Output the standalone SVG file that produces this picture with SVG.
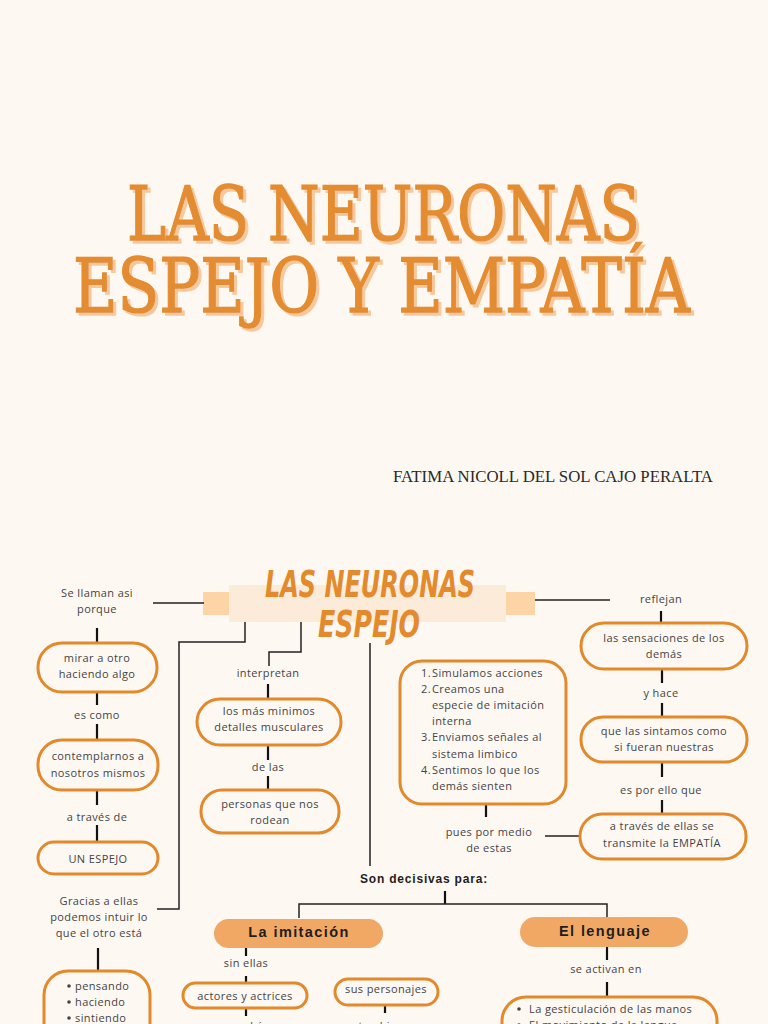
<svg xmlns="http://www.w3.org/2000/svg" width="768" height="1024" viewBox="0 0 768 1024">
<defs>
<filter id="shadow" x="-5%" y="-20%" width="110%" height="140%">
  <feOffset in="SourceAlpha" dx="3" dy="3" result="off"/>
  <feFlood flood-color="#f7c89c"/>
  <feComposite in2="off" operator="in" result="sh"/>
  <feMerge><feMergeNode in="sh"/><feMergeNode in="SourceGraphic"/></feMerge>
</filter>
</defs>
<style>
.bg{fill:#fef8f3}
.t{font-family:"Open Sans","Liberation Sans",sans-serif;font-size:11px;letter-spacing:0.4px;fill:#444;text-anchor:middle}
.tl{font-family:"Open Sans","Liberation Sans",sans-serif;font-size:11px;letter-spacing:0.4px;fill:#444}
.node{fill:none;stroke:#e2892c;stroke-width:3}
.pill{fill:#f2a865;stroke:none}
.pt{font-family:"Liberation Sans","Open Sans",sans-serif;font-size:14.5px;font-weight:bold;letter-spacing:1.4px;fill:#1e1e1e;text-anchor:middle}
.ln{fill:none;stroke:#222;stroke-width:1.5}
.tk{fill:none;stroke:#111;stroke-width:2.2}
.ttl{font-family:"DejaVu Serif","Liberation Serif",serif;font-size:75px;fill:#e48c30;stroke:#e48c30;stroke-width:1.3px}
.bt{font-family:"DejaVu Sans Condensed","DejaVu Sans","Liberation Sans",sans-serif;font-weight:bold;font-style:italic;font-size:38px;fill:#e38a2c}
</style>
<rect class="bg" x="0" y="0" width="768" height="1024"/>

<g id="title" filter="url(#shadow)">
  <text class="ttl" x="127" y="240" textLength="513" lengthAdjust="spacingAndGlyphs">LAS NEURONAS</text>
  <text class="ttl" x="73" y="312" textLength="617" lengthAdjust="spacingAndGlyphs">ESPEJO Y EMPATÍA</text>
</g>
<text id="author" x="393" y="482" font-family="Liberation Serif, serif" font-size="16.5" fill="#2a2a2a" textLength="320" lengthAdjust="spacingAndGlyphs">FATIMA NICOLL DEL SOL CAJO PERALTA</text>

<g id="banner">
  <rect x="203" y="592" width="27" height="23" fill="#fdd4a6"/>
  <rect x="506" y="592" width="29" height="23" fill="#fdd4a6"/>
  <rect x="229" y="585" width="277" height="37" fill="#fcebd8"/>
  <text class="bt" x="265" y="597" textLength="210" lengthAdjust="spacingAndGlyphs">LAS NEURONAS</text>
  <text class="bt" x="318" y="637" textLength="102" lengthAdjust="spacingAndGlyphs">ESPEJO</text>
</g>

<g id="connectors">
  <line class="ln" x1="153" y1="603" x2="204" y2="603"/>
  <line class="tk" x1="97" y1="628" x2="97" y2="642"/>
  <line class="tk" x1="97" y1="692" x2="97" y2="705"/>
  <line class="tk" x1="97" y1="724" x2="97" y2="739"/>
  <line class="tk" x1="97" y1="791" x2="97" y2="805"/>
  <line class="tk" x1="97" y1="825" x2="97" y2="841"/>
  <polyline class="ln" points="157,909 179,909 179,642 245,642 245,622"/>
  <line class="tk" x1="98" y1="948" x2="98" y2="970"/>
  <polyline class="ln" points="301,622 301,652 269,652 269,666"/>
  <line class="tk" x1="268" y1="684" x2="268" y2="698"/>
  <line class="tk" x1="268" y1="746" x2="268" y2="760"/>
  <line class="tk" x1="268" y1="776" x2="268" y2="790"/>
  <line class="ln" x1="370" y1="643" x2="370" y2="866"/>
  <line class="tk" x1="445" y1="891" x2="445" y2="904"/>
  <polyline class="ln" points="299,918 299,904 607,904 607,918"/>
  <line class="tk" x1="246" y1="948" x2="246" y2="956"/>
  <line class="tk" x1="246" y1="976" x2="246" y2="983"/>
  <line class="tk" x1="246" y1="1009" x2="246" y2="1016"/>
  <line class="tk" x1="385" y1="1006" x2="385" y2="1013"/>
  <line class="tk" x1="607" y1="947" x2="607" y2="960"/>
  <line class="tk" x1="607" y1="982" x2="607" y2="996"/>
  <line class="tk" x1="486" y1="805" x2="486" y2="817"/>
  <line class="ln" x1="545" y1="836" x2="580" y2="836"/>
  <line class="ln" x1="535" y1="600" x2="610" y2="600"/>
  <line class="tk" x1="661" y1="611" x2="661" y2="623"/>
  <line class="tk" x1="662" y1="670" x2="662" y2="683"/>
  <line class="tk" x1="662" y1="703" x2="662" y2="716"/>
  <line class="tk" x1="662" y1="763" x2="662" y2="777"/>
  <line class="tk" x1="662" y1="800" x2="662" y2="814"/>
</g>

<g id="lbl-llaman"><text class="t" x="97" y="597">Se llaman asi</text><text class="t" x="97" y="613">porque</text></g>
<g id="n-mirar"><rect class="node" x="38" y="643" width="119" height="49" rx="24"/><text class="t" x="97" y="662">mirar a otro</text><text class="t" x="97" y="678">haciendo algo</text></g>
<g id="lbl-escomo"><text class="t" x="97" y="719">es como</text></g>
<g id="n-contemplar"><rect class="node" x="38" y="740" width="120" height="50" rx="24"/><text class="t" x="98" y="760">contemplarnos a</text><text class="t" x="98" y="777">nosotros mismos</text></g>
<g id="lbl-atraves"><text class="t" x="97" y="821">a través de</text></g>
<g id="n-espejo"><rect class="node" x="38" y="842" width="120" height="32" rx="16"/><text class="t" x="98" y="863">UN ESPEJO</text></g>
<g id="lbl-gracias"><text class="t" x="99" y="905">Gracias a ellas</text><text class="t" x="99" y="921">podemos intuir lo</text><text class="t" x="99" y="937">que el otro está</text></g>
<g id="n-pensando"><rect class="node" x="44" y="971" width="106" height="80" rx="24"/>
  <circle cx="69" cy="986" r="1.8" fill="#444"/><text class="tl" x="75" y="990">pensando</text>
  <circle cx="69" cy="1002" r="1.8" fill="#444"/><text class="tl" x="75" y="1006">haciendo</text>
  <circle cx="69" cy="1018" r="1.8" fill="#444"/><text class="tl" x="75" y="1022">sintiendo</text>
</g>

<g id="lbl-interpretan"><text class="t" x="268" y="677">interpretan</text></g>
<g id="n-minimos"><rect class="node" x="197" y="699" width="144" height="46" rx="23"/><text class="t" x="269" y="715">los más minimos</text><text class="t" x="269" y="731">detalles musculares</text></g>
<g id="lbl-delas"><text class="t" x="268" y="771">de las</text></g>
<g id="n-personas"><rect class="node" x="201" y="790" width="138" height="43" rx="21"/><text class="t" x="270" y="808">personas que nos</text><text class="t" x="270" y="824">rodean</text></g>

<g id="n-lista"><rect class="node" x="400" y="661" width="166" height="143" rx="22"/>
  <text class="tl" x="421" y="677" font-size="10">1.</text><text class="tl" x="432" y="677">Simulamos acciones</text>
  <text class="tl" x="421" y="693" font-size="10">2.</text><text class="tl" x="432" y="693">Creamos una</text>
  <text class="tl" x="432" y="709">especie de imitación</text>
  <text class="tl" x="432" y="725">interna</text>
  <text class="tl" x="421" y="741" font-size="10">3.</text><text class="tl" x="432" y="741">Enviamos señales al</text>
  <text class="tl" x="432" y="758">sistema limbico</text>
  <text class="tl" x="421" y="774" font-size="10">4.</text><text class="tl" x="432" y="774">Sentimos lo que los</text>
  <text class="tl" x="432" y="790">demás sienten</text>
</g>
<g id="lbl-pues"><text class="t" x="489" y="836">pues por medio</text><text class="t" x="489" y="852">de estas</text></g>

<g id="lbl-reflejan"><text class="t" x="661" y="603">reflejan</text></g>
<g id="n-sensaciones"><rect class="node" x="581" y="623" width="166" height="46" rx="23"/><text class="t" x="664" y="642">las sensaciones de los</text><text class="t" x="664" y="658">demás</text></g>
<g id="lbl-yhace"><text class="t" x="661" y="697">y hace</text></g>
<g id="n-sintamos"><rect class="node" x="581" y="717" width="166" height="45" rx="22"/><text class="t" x="664" y="735">que las sintamos como</text><text class="t" x="664" y="751">si fueran nuestras</text></g>
<g id="lbl-esporello"><text class="t" x="661" y="794">es por ello que</text></g>
<g id="n-empatia"><rect class="node" x="580" y="814" width="166" height="45" rx="22"/><text class="t" x="662" y="830">a través de ellas se</text><text class="t" x="662" y="847">transmite la EMPATÍA</text></g>

<g id="lbl-decisivas"><text x="424" y="883" font-family="Liberation Sans, Open Sans, sans-serif" font-size="12" font-weight="bold" letter-spacing="0.8" fill="#1e1e1e" text-anchor="middle">Son decisivas para:</text></g>
<g id="n-imitacion"><rect class="pill" x="214" y="919" width="169" height="29" rx="14.5"/><text class="pt" x="299" y="937">La imitación</text></g>
<g id="n-lenguaje"><rect class="pill" x="520" y="917" width="168" height="30" rx="15"/><text class="pt" x="605" y="936">El lenguaje</text></g>
<g id="lbl-sinellas"><text class="t" x="246" y="967">sin ellas</text></g>
<g id="n-actores"><rect class="node" x="183" y="983" width="124" height="25" rx="12.5"/><text class="t" x="245" y="1000">actores y actrices</text></g>
<g id="lbl-nopodrian"><text class="t" x="245" y="1030">no podrían</text></g>
<g id="n-personajes"><rect class="node" x="335" y="979" width="103" height="26" rx="13"/><text class="t" x="386" y="993">sus personajes</text></g>
<g id="lbl-tanbien"><text class="t" x="386" y="1030">tan bien a</text></g>
<g id="lbl-activan"><text class="t" x="606" y="973">se activan en</text></g>
<g id="n-gesticulacion"><rect class="node" x="502" y="997" width="215" height="70" rx="24"/>
  <circle cx="519" cy="1009" r="1.8" fill="#444"/><text class="tl" x="529" y="1013">La gesticulación de las manos</text>
  <circle cx="519" cy="1025" r="1.8" fill="#444"/><text class="tl" x="529" y="1029">El movimiento de la lengua</text>
</g>
</svg>
